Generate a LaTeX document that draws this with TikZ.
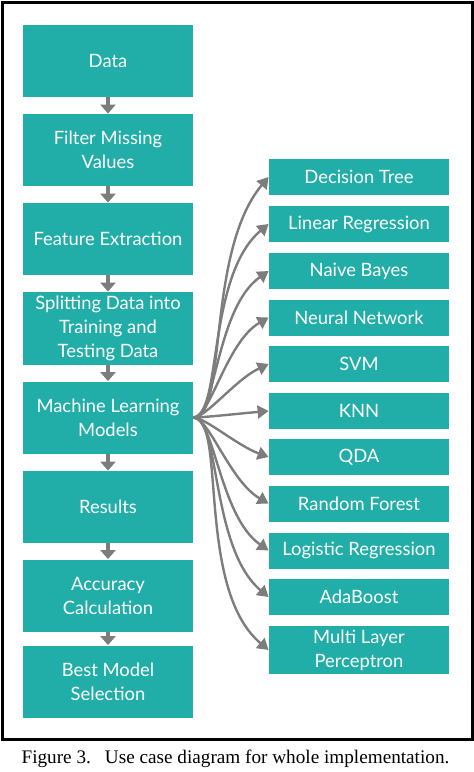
\documentclass[tikz,border=0pt]{standalone}
\usepackage{fontspec}
\setmainfont{Liberation Serif}
\newfontfamily\latofont{Lato}
\usepackage{tikz}
\usetikzlibrary{arrows}
\usetikzlibrary{shapes, arrows.meta}
\definecolor{boxteal}{RGB}{34,174,168}
\definecolor{arrowgray}{RGB}{125,125,125}

\begin{document}
\begin{tikzpicture}[x=0.5pt, y=-0.5pt,
  stage/.style={fill=boxteal, text=white, minimum width=85pt, minimum height=36pt, inner sep=2pt, align=center, font=\latofont\fontsize{9.2}{12}\selectfont},
  model/.style={stage, minimum width=90pt, minimum height=18pt},
  flow/.style={arrowgray, line width=2pt, -{Triangle[width=7.5pt, length=4.5pt]}},
  fan/.style={arrowgray, line width=1.2pt, -{Triangle[width=6.5pt, length=5.5pt]}, out=0, out looseness=0.35, in looseness=1}]
\useasboundingbox (0,0) rectangle (474,772);
\draw[line width=1.5pt] (2,2) rectangle (472,739); %outer frame

% left column
\node[stage] (data) at (108, 61) {Data};
\node[stage] (filter) at (108, 150) {Filter Missing\\Values};
\node[stage] (feature) at (108, 239) {Feature Extraction};
\node[stage] (split) at (108, 328.5) {Splitting Data into\\Training and\\Testing Data};
\node[stage] (ml) at (108, 417.5) {Machine Learning\\Models};
\node[stage] (results) at (108, 507) {Results};
\node[stage] (accuracy) at (108, 595.5) {Accuracy\\Calculation};
\node[stage] (best) at (108, 681.5) {Best Model\\Selection};

 \draw[flow] (data) -- (filter);
 \draw[flow] (filter) -- (feature);
 \draw[flow] (feature) -- (split);
 \draw[flow] (split) -- (ml);
 \draw[flow] (ml) -- (results);
 \draw[flow] (results) -- (accuracy);
 \draw[flow] (accuracy) -- (best);

% right column
\node[model] (dt) at (359, 177) {Decision Tree};
\node[model] (lr) at (359, 224) {Linear Regression};
\node[model] (nb) at (359, 271) {Naive Bayes};
\node[model] (nn) at (359, 317.5) {Neural Network};
\node[model] (svm) at (359, 364) {SVM};
\node[model] (knn) at (359, 411) {KNN};
\node[model] (qda) at (359, 457) {QDA};
\node[model] (rf) at (359, 503.5) {Random Forest};
\node[model] (lgr) at (359, 550.5) {Logistic Regression};
\node[model] (ada) at (359, 597) {AdaBoost};
\node[model, minimum height=24pt] (mlp) at (359, 650) {Multi Layer\\Perceptron};

 \draw[fan] (ml.east) to[in=230] (dt.west);
 \draw[fan] (ml.east) to[in=220] (lr.west);
 \draw[fan] (ml.east) to[in=215] (nb.west);
 \draw[fan] (ml.east) to[in=210] (nn.west);
 \draw[fan] (ml.east) to[in=205] (svm.west);
 \draw[fan] (ml.east) to[in=185] (knn.west);
 \draw[fan] (ml.east) to[in=160] (qda.west);
 \draw[fan] (ml.east) to[in=150] (rf.west);
 \draw[fan] (ml.east) to[in=145] (lgr.west);
 \draw[fan] (ml.east) to[in=140] (ada.west);
 \draw[fan] (ml.east) to[in=140] (mlp.west);

\node[anchor=base, font=\fontsize{9.6}{11}\selectfont] (caption) at (235.5, 763) {Figure 3.\hspace{7pt}Use case diagram for whole implementation.};
\end{tikzpicture}
\end{document}
